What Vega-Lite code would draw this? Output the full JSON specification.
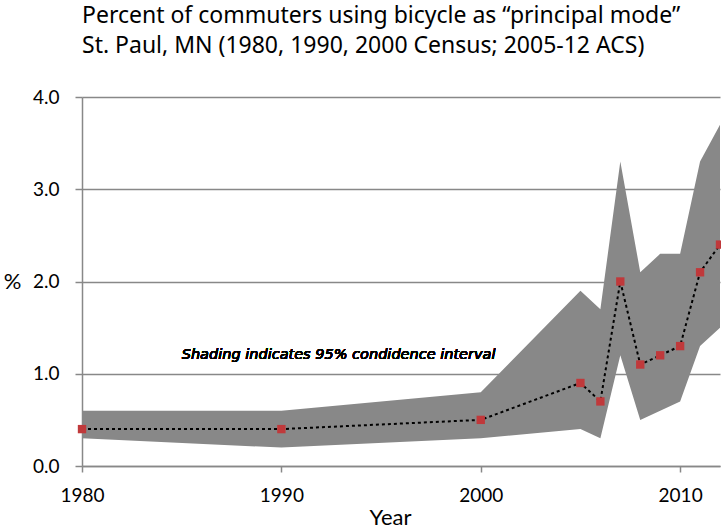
{
  "$schema": "https://vega.github.io/schema/vega-lite/v6.json",
  "width": 638,
  "height": 369,
  "autosize": {"type": "none"},
  "padding": {"left": 82, "top": 97, "right": 1, "bottom": 63},
  "background": "white",
  "title": {
    "text": ["Percent of commuters using bicycle as “principal mode”", "St. Paul, MN (1980, 1990, 2000 Census; 2005-12 ACS)"],
    "anchor": "start",
    "frame": "group",
    "font": "Noto Sans",
    "fontSize": 23,
    "fontWeight": "normal",
    "color": "black",
    "lineHeight": 30,
    "offset": 30
  },
  "config": {
    "view": {"stroke": null},
    "axis": {
      "labelFont": "Lato",
      "titleFont": "Lato",
      "labelColor": "black",
      "titleColor": "black",
      "domainColor": "#888888",
      "tickColor": "#888888",
      "gridColor": "#888888",
      "domainWidth": 1.5,
      "tickWidth": 1.5,
      "gridWidth": 1.5
    }
  },
  "data": {
    "values": [
      {"year": 1980, "pct": 0.4, "lo": 0.3, "hi": 0.6},
      {"year": 1990, "pct": 0.4, "lo": 0.2, "hi": 0.6},
      {"year": 2000, "pct": 0.5, "lo": 0.3, "hi": 0.8},
      {"year": 2005, "pct": 0.9, "lo": 0.4, "hi": 1.9},
      {"year": 2006, "pct": 0.7, "lo": 0.3, "hi": 1.7},
      {"year": 2007, "pct": 2.0, "lo": 1.2, "hi": 3.3},
      {"year": 2008, "pct": 1.1, "lo": 0.5, "hi": 2.1},
      {"year": 2009, "pct": 1.2, "lo": 0.6, "hi": 2.3},
      {"year": 2010, "pct": 1.3, "lo": 0.7, "hi": 2.3},
      {"year": 2011, "pct": 2.1, "lo": 1.3, "hi": 3.3},
      {"year": 2012, "pct": 2.4, "lo": 1.5, "hi": 3.7}
    ]
  },
  "encoding": {
    "x": {
      "field": "year",
      "type": "quantitative",
      "scale": {"domain": [1980, 2012], "nice": false, "zero": false},
      "axis": {
        "title": "Year",
        "values": [1980, 1990, 2000, 2010],
        "format": "d",
        "grid": false,
        "labelFlush": false,
        "tickSize": 6,
        "labelFontSize": 19,
        "labelPadding": 14,
        "titleFontSize": 22,
        "titleFontWeight": "normal",
        "titlePadding": 2,
        "titleX": 308
      }
    }
  },
  "layer": [
    {
      "mark": {"type": "area", "color": "#888888", "opacity": 1},
      "encoding": {
        "y": {
          "field": "lo",
          "type": "quantitative",
          "scale": {"domain": [0, 4], "nice": false},
          "axis": {
            "title": "%",
            "values": [0, 1, 2, 3, 4],
            "format": ".1f",
            "grid": true,
            "labelFlush": false,
            "tickSize": 7,
            "labelFontSize": 19,
            "labelPadding": 16,
            "titleFontSize": 22,
            "titleFontWeight": "normal",
            "titleAngle": 0,
            "titleAlign": "center",
            "titleBaseline": "middle",
            "titleX": -70,
            "titleY": 184
          }
        },
        "y2": {"field": "hi"}
      }
    },
    {
      "mark": {"type": "line", "color": "black", "strokeWidth": 2, "strokeDash": [3, 3]},
      "encoding": {"y": {"field": "pct", "type": "quantitative"}}
    },
    {
      "mark": {"type": "point", "shape": "square", "filled": true, "size": 70, "color": "#c0393b", "opacity": 1},
      "encoding": {"y": {"field": "pct", "type": "quantitative"}}
    },
    {
      "mark": {"type": "text", "align": "left", "baseline": "middle", "font": "DejaVu Sans", "fontStyle": "italic", "fontWeight": "normal", "fontSize": 14.5, "color": "black"},
      "encoding": {
        "x": {"datum": 1985},
        "y": {"datum": 1.2},
        "text": {"value": "Shading indicates 95% condidence interval"}
      }
    }
  ]
}
